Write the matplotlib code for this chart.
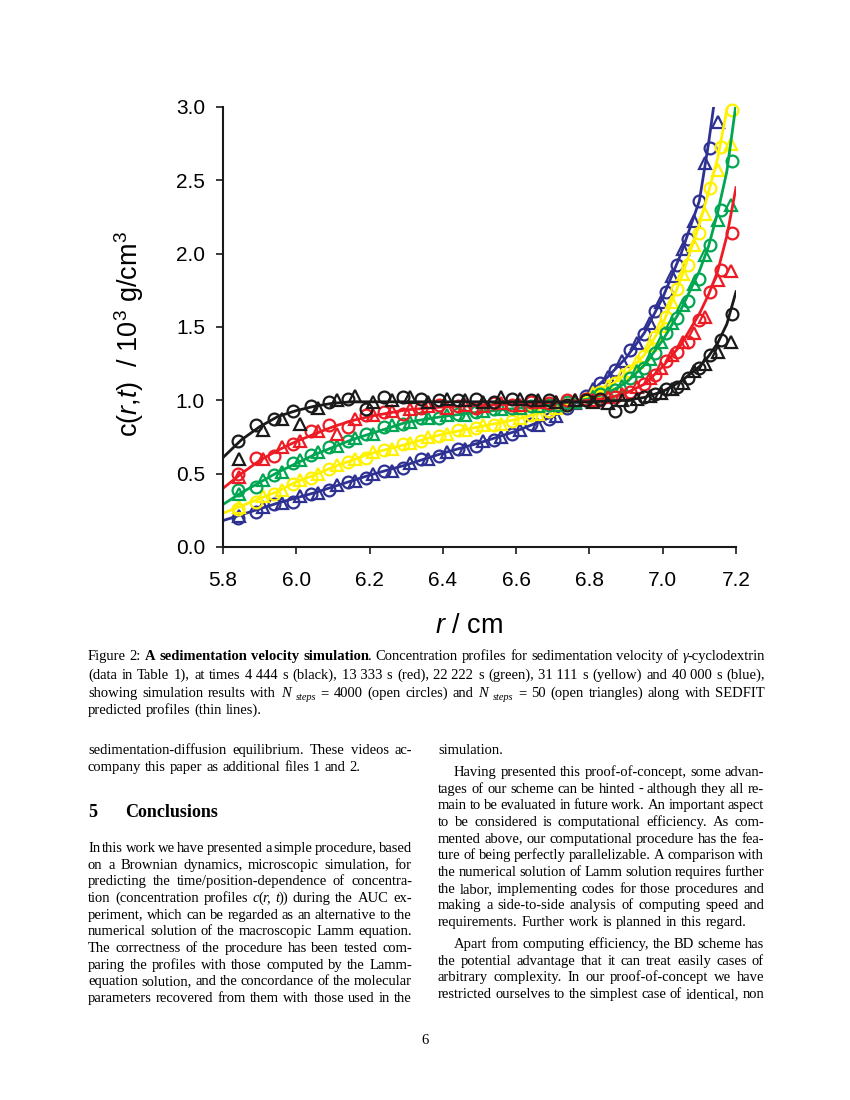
import re
import numpy as np
import matplotlib
matplotlib.use("Agg")
import matplotlib.pyplot as plt
from matplotlib.ticker import FormatStrFormatter

plt.rcParams['font.family'] = ['Liberation Sans', 'DejaVu Sans']
plt.rcParams['mathtext.fontset'] = 'custom'
plt.rcParams['mathtext.rm'] = 'Liberation Sans'
plt.rcParams['mathtext.it'] = 'Liberation Sans:italic'
plt.rcParams['mathtext.bf'] = 'Liberation Sans:bold'

nan = np.nan

# === SEDFIT profiles (thin lines) ===
r_line = [5.80, 5.85, 5.90, 5.95, 6.00, 6.05, 6.10, 6.15, 6.20, 6.30, 6.40, 6.50, 6.60,
          6.70, 6.75, 6.80, 6.85, 6.90, 6.95, 7.00, 7.05, 7.10, 7.125, 7.15, 7.175, 7.20]
black_line = [0.61, 0.73, 0.82, 0.89, 0.93, 0.96, 0.98, 0.99, 0.99, 0.99, 0.99, 0.99, 0.99,
              0.99, 0.99, 0.99, 0.995, 1.00, 1.02, 1.06, 1.13, 1.23, 1.30, 1.39, 1.52, 1.74]
red_line = [0.40, 0.50, 0.59, 0.66, 0.72, 0.77, 0.82, 0.86, 0.89, 0.935, 0.955, 0.965, 0.975,
            0.985, 0.99, 1.00, 1.015, 1.05, 1.11, 1.23, 1.38, 1.59, 1.72, 1.88, 2.12, 2.45]
green_line = [0.29, 0.37, 0.44, 0.51, 0.57, 0.63, 0.68, 0.73, 0.77, 0.85, 0.89, 0.92, 0.945,
              0.97, 0.99, 1.01, 1.05, 1.12, 1.24, 1.41, 1.62, 1.88, 2.05, 2.28, 2.56, 3.02]
yellow_line = [0.23, 0.28, 0.33, 0.38, 0.445, 0.49, 0.545, 0.59, 0.635, 0.70, 0.77, 0.82, 0.87,
               0.94, 0.98, 1.03, 1.09, 1.18, 1.31, 1.52, 1.83, 2.20, 2.42, 2.65, 2.98, 3.30]
blue_line = [0.18, 0.22, 0.26, 0.30, 0.335, 0.37, 0.41, 0.45, 0.49, 0.56, 0.64, 0.71, 0.79,
             0.89, 0.96, 1.05, 1.16, 1.29, 1.46, 1.70, 2.00, 2.36, 2.75, 3.20, nan, nan]

# === N_steps = 4000 (open circles) ===
r_circ = [5.84, 5.89, 5.94, 5.99, 6.04, 6.09, 6.14, 6.19, 6.24, 6.29, 6.34, 6.39, 6.44, 6.49,
          6.54, 6.59, 6.64, 6.69, 6.74, 6.79, 6.83, 6.87, 6.91, 6.95, 6.98, 7.01, 7.04, 7.07,
          7.10, 7.13, 7.16, 7.19]
black_circ = [0.72, 0.83, 0.87, 0.93, 0.96, 0.99, 1.01, 0.94, 1.02, 1.02, 1.01, 1.00, 1.00, 1.01,
              0.99, 1.01, 1.00, 1.00, 0.97, 1.00, 1.01, 0.93, 0.96, 1.02, 1.04, 1.08, 1.09, 1.15,
              1.22, 1.31, 1.41, 1.59]
red_circ = [0.50, 0.61, 0.62, 0.70, 0.79, 0.83, 0.82, 0.90, 0.92, 0.91, 0.95, 0.97, 0.96, 0.95,
            0.98, 0.97, 0.99, 0.98, 1.00, 1.01, 1.00, 1.02, 1.06, 1.11, 1.17, 1.27, 1.33, 1.40,
            1.55, 1.74, 1.89, 2.14]
green_circ = [0.39, 0.41, 0.49, 0.57, 0.63, 0.68, 0.72, 0.77, 0.82, 0.84, 0.88, 0.88, 0.91, 0.92,
              0.94, 0.95, 0.96, 0.97, 0.99, 1.00, 1.04, 1.07, 1.15, 1.22, 1.32, 1.46, 1.56, 1.68,
              1.83, 2.06, 2.30, 2.63]
yellow_circ = [0.26, 0.31, 0.36, 0.43, 0.47, 0.53, 0.58, 0.61, 0.66, 0.70, 0.72, 0.76, 0.80, 0.81,
               0.83, 0.86, 0.90, 0.93, 0.97, 1.01, 1.06, 1.12, 1.20, 1.30, 1.43, 1.57, 1.76, 1.92,
               2.14, 2.45, 2.73, 2.98]
blue_circ = [0.20, 0.24, 0.29, 0.31, 0.36, 0.39, 0.44, 0.47, 0.52, 0.54, 0.60, 0.62, 0.67, 0.69,
             0.73, 0.77, 0.84, 0.87, 0.95, 1.03, 1.12, 1.21, 1.34, 1.45, 1.61, 1.74, 1.92, 2.10,
             2.36, 2.72, nan, nan]

# === N_steps = 50 (open triangles) ===
r_tri = [5.845, 5.91, 5.96, 6.01, 6.06, 6.11, 6.16, 6.21, 6.26, 6.31, 6.36, 6.41, 6.46, 6.51,
         6.56, 6.61, 6.66, 6.71, 6.76, 6.81, 6.85, 6.89, 6.93, 6.965, 6.995, 7.025, 7.055,
         7.085, 7.115, 7.15, 7.185]
black_tri = [0.60, 0.80, 0.87, 0.84, 0.95, 1.00, 1.03, 0.99, 1.00, 1.02, 0.99, 1.01, 1.00, 0.99,
             1.02, 1.01, 1.00, 0.99, 1.00, 0.99, 0.98, 1.00, 1.01, 1.03, 1.05, 1.08, 1.12, 1.20,
             1.25, 1.33, 1.40]
red_tri = [0.48, 0.60, 0.68, 0.72, 0.79, 0.77, 0.87, 0.90, 0.93, 0.94, 0.96, 0.95, 0.97, 0.96,
           0.98, 0.97, 0.99, 0.99, 1.00, 1.00, 1.02, 1.04, 1.09, 1.15, 1.22, 1.31, 1.40, 1.46,
           1.57, 1.82, 1.88]
green_tri = [0.36, 0.46, 0.51, 0.59, 0.65, 0.69, 0.74, 0.77, 0.83, 0.85, 0.88, 0.90, 0.90, 0.93,
             0.94, 0.95, 0.96, 0.97, 0.99, 1.02, 1.05, 1.10, 1.20, 1.28, 1.40, 1.53, 1.65, 1.79,
             1.99, 2.23, 2.33]
yellow_tri = [0.27, 0.35, 0.39, 0.46, 0.50, 0.56, 0.60, 0.65, 0.67, 0.71, 0.75, 0.77, 0.80, 0.83,
              0.84, 0.88, 0.91, 0.95, 0.99, 1.05, 1.10, 1.17, 1.26, 1.38, 1.51, 1.67, 1.86, 2.06,
              2.27, 2.57, 2.75]
blue_tri = [0.21, 0.27, 0.30, 0.35, 0.37, 0.42, 0.45, 0.50, 0.52, 0.57, 0.60, 0.65, 0.67, 0.72,
            0.75, 0.80, 0.83, 0.89, 0.98, 1.08, 1.16, 1.27, 1.39, 1.53, 1.67, 1.85, 2.03, 2.22,
            2.62, 2.90, nan]

x_ticks = [5.8, 6.0, 6.2, 6.4, 6.6, 6.8, 7.0, 7.2]
y_ticks = [0.0, 0.5, 1.0, 1.5, 2.0, 2.5, 3.0]

# === Page text ===
caption_lines = [
    "Figure 2: <b>A</b> <b>sedimentation</b> <b>velocity</b> <b>simulation</b>. Concentration "
    "profiles for sedimentation velocity of <i>γ</i>-cyclodextrin",
    "(data in Table 1), at times 4\u00a0444 s (black), 13\u00a0333 s (red), 22\u00a0222 s (green), "
    "31\u00a0111 s (yellow) and 40\u00a0000 s (blue),",
    "showing simulation results with <i>N</i> <s>steps</s> = 4000 (open circles) and "
    "<i>N</i> <s>steps</s> = 50 (open triangles) along with SEDFIT",
    "predicted profiles (thin lines).",
]
left_top = [
    "sedimentation-diffusion equilibrium. These videos ac-",
    "company this paper as additional files 1 and 2.",
]
left_par = [
    "In this work we have presented a simple procedure, based",
    "on a Brownian dynamics, microscopic simulation, for",
    "predicting the time/position-dependence of concentra-",
    "tion (concentration profiles <i>c</i>(<i>r</i>, <i>t</i>)) during the AUC ex-",
    "periment, which can be regarded as an alternative to the",
    "numerical solution of the macroscopic Lamm equation.",
    "The correctness of the procedure has been tested com-",
    "paring the profiles with those computed by the Lamm-",
    "equation solution, and the concordance of the molecular",
    "parameters recovered from them with those used in the",
]
right_par1 = [
    "Having presented this proof-of-concept, some advan-",
    "tages of our scheme can be hinted - although they all re-",
    "main to be evaluated in future work. An important aspect",
    "to be considered is computational efficiency. As com-",
    "mented above, our computational procedure has the fea-",
    "ture of being perfectly parallelizable. A comparison with",
    "the numerical solution of Lamm solution requires further",
    "the labor, implementing codes for those procedures and",
    "making a side-to-side analysis of computing speed and",
    "requirements. Further work is planned in this regard.",
]
right_par2 = [
    "Apart from computing efficiency, the BD scheme has",
    "the potential advantage that it can treat easily cases of",
    "arbitrary complexity. In our proof-of-concept we have",
    "restricted ourselves to the simplest case of identical, non",
]

# === Figure and chart ===
W, H = 850, 1100
fig = plt.figure(figsize=(W / 100, H / 100), dpi=100)
ax = fig.add_axes([223 / W, 1 - 547 / H, 513 / W, 440 / H])

series = [
    ('#2e3192', blue_line, blue_circ, blue_tri),
    ('#fff200', yellow_line, yellow_circ, yellow_tri),
    ('#00a651', green_line, green_circ, green_tri),
    ('#ed1c24', red_line, red_circ, red_tri),
    ('#1a1a1a', black_line, black_circ, black_tri),
]
for i, (col, yl, yc, yt) in enumerate(series):
    z = 2 + i * 0.1
    ax.plot(r_line, yl, color=col, lw=2.0, zorder=z)
    ax.plot(r_circ, yc, 'o', mfc='none', mec=col, mew=1.6, ms=8.5, clip_on=False, zorder=z)
    ax.plot(r_tri, yt, '^', mfc='none', mec=col, mew=1.6, ms=8.5, clip_on=False, zorder=z)

ax.set_xlim(5.8, 7.2)
ax.set_ylim(0, 3.0)
ax.set_xticks(x_ticks)
ax.set_yticks(y_ticks)
ax.yaxis.set_major_formatter(FormatStrFormatter('%.1f'))
for s in ['top', 'right']:
    ax.spines[s].set_visible(False)
for s in ['left', 'bottom']:
    ax.spines[s].set_linewidth(1.5)
    ax.spines[s].set_color('#1a1a1a')
ax.tick_params(axis='both', direction='out', length=5, width=1.2, labelsize=15, color='#1a1a1a')
ax.tick_params(axis='x', pad=12)
ax.tick_params(axis='y', pad=8)
ax.set_xlabel(r'$r$ / cm', fontsize=19.5)
ax.set_ylabel(r'c($r$,$t$)  / 10$^{3}$ g/cm$^{3}$', fontsize=19.5)
ax.xaxis.set_label_coords(0.48, -0.15)
ax.yaxis.set_label_coords(-0.15, 0.484)

# === Justified text, placed word by word ===
SERIF = 'Liberation Serif'
STYLES = {'n': {}, 'b': {'fontweight': 'bold'}, 'i': {'fontstyle': 'italic'},
          's': {'fontstyle': 'italic'}}
renderer = fig.canvas.get_renderer()


def split_word(word):
    parts, style = [], 'n'
    for tok in re.split(r'(</?[bis]>)', word):
        if not tok:
            continue
        if tok.startswith('</'):
            style = 'n'
        elif tok.startswith('<'):
            style = tok[1]
        else:
            parts.append((tok, style))
    return parts


def put_line(line, x0, x1, y, justify=True, indent=0, size=10.5):
    words = []
    for word in line.split(' '):
        objs = []
        for s, st in split_word(word):
            fs = size * 0.7 if st == 's' else size
            t = fig.text(0, 0, s, fontsize=fs, family=SERIF, va='baseline', ha='left',
                         **STYLES[st])
            w = t.get_window_extent(renderer).width
            objs.append((t, st, w))
        words.append(objs)
    widths = [sum(w for _, _, w in objs) - 1.0 * (len(objs) - 1) for objs in words]
    gap = 0.27 * size * 100 / 72
    if justify and len(words) > 1:
        gap = (x1 - x0 - indent - sum(widths)) / (len(words) - 1)
    x = x0 + indent
    for objs, wd in zip(words, widths):
        xx = x
        for t, st, w in objs:
            dy = 3 if st == 's' else 0
            t.set_position((xx / W, 1 - (y + dy) / H))
            xx += w - 1.0
        x += wd + gap


cap_base = [660, 679, 697, 714]
for k, line in enumerate(caption_lines):
    put_line(line, 88, 765, cap_base[k], justify=(k < 3))

put_line(left_top[0], 88, 412, 754)
put_line(left_top[1], 88, 412, 771, justify=False)
fig.text(88 / W, 1 - 817 / H, '5', fontsize=13, fontweight='bold', family=SERIF, va='baseline')
fig.text(125 / W, 1 - 817 / H, 'Conclusions', fontsize=13, fontweight='bold', family=SERIF,
         va='baseline')
for k, line in enumerate(left_par):
    put_line(line, 88, 412, 852 + k * 16.67)

put_line("simulation.", 438, 764, 754, justify=False)
for k, line in enumerate(right_par1):
    put_line(line, 438, 764, 776 + k * 16.67, justify=(k < len(right_par1) - 1),
             indent=16 if k == 0 else 0)
for k, line in enumerate(right_par2):
    put_line(line, 438, 764, 948 + k * 16.67, indent=16 if k == 0 else 0)

fig.text(425 / W, 1 - 1044 / H, '6', fontsize=10.5, family=SERIF, ha='center', va='baseline')

fig.savefig('out.png', dpi=100)
